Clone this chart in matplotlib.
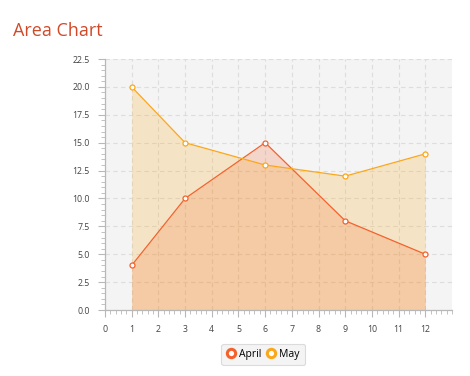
import matplotlib
matplotlib.use("Agg")
import matplotlib.pyplot as plt
from matplotlib.ticker import MultipleLocator
from matplotlib.lines import Line2D

months = [1, 3, 6, 9, 12]
april = [4, 10, 15, 8, 5]
may = [20, 15, 13, 12, 14]
series_names = ["April", "May"]
colors = ["#f3622d", "#fba71b"]

plt.rcParams['font.family'] = ['Open Sans', 'DejaVu Sans']

fig = plt.figure(figsize=(4.7, 3.76), dpi=100)
ax = fig.add_axes([0.2234, 0.1755, 0.7383, 0.6675])
ax.set_facecolor("#f4f4f4")

for vals, c in zip([april, may], colors):
    ax.fill_between(months, vals, 0, color=c, alpha=0.21, linewidth=0, zorder=2)
for vals, c in zip([april, may], colors):
    ax.plot(months, vals, color=c, lw=0.9, zorder=3,
            marker="o", ms=3.6, mfc="white", mec=c, mew=0.9)

ax.set_xticks(range(0, 13))
ax.set_xticklabels([str(v) for v in range(0, 13)])
yt = [i * 2.5 for i in range(10)]
ax.set_yticks(yt)
ax.set_yticklabels(["%.1f" % v for v in yt])
ax.xaxis.set_minor_locator(MultipleLocator(0.2))
ax.yaxis.set_minor_locator(MultipleLocator(0.5))
ax.set_xlim(0, 13)
ax.set_ylim(0, 22.5)

ax.grid(True, which="major", color="#dddddd", linestyle=(0, (4, 3)), lw=0.8, zorder=1)
for s in ["top", "right"]:
    ax.spines[s].set_visible(False)
for s in ["left", "bottom"]:
    ax.spines[s].set_color("#b8b8b8")
    ax.spines[s].set_linewidth(0.9)
ax.tick_params(which="major", length=5, color="#b8b8b8", labelsize=6.3, labelcolor="#444444", pad=6)
ax.tick_params(which="minor", length=3, color="#b8b8b8")

fig.text(0.028, 0.905, "Area Chart", fontsize=13, color="#d04a2a")

handles = [Line2D([], [], lw=0, marker="o", ms=6, mfc="white", mec=c, mew=2.2) for c in colors]
leg = fig.legend(handles, series_names, loc="lower center", bbox_to_anchor=(0.56, 0.015),
                 ncol=2, frameon=True, fontsize=7.5, handletextpad=0.3, columnspacing=0.5,
                 borderpad=0.5, handlelength=0.9, fancybox=True)
leg.get_frame().set_facecolor("#f2f2f2")
leg.get_frame().set_edgecolor("#d4d4d4")
leg.get_frame().set_linewidth(0.8)

fig.savefig("out.png", dpi=100)
